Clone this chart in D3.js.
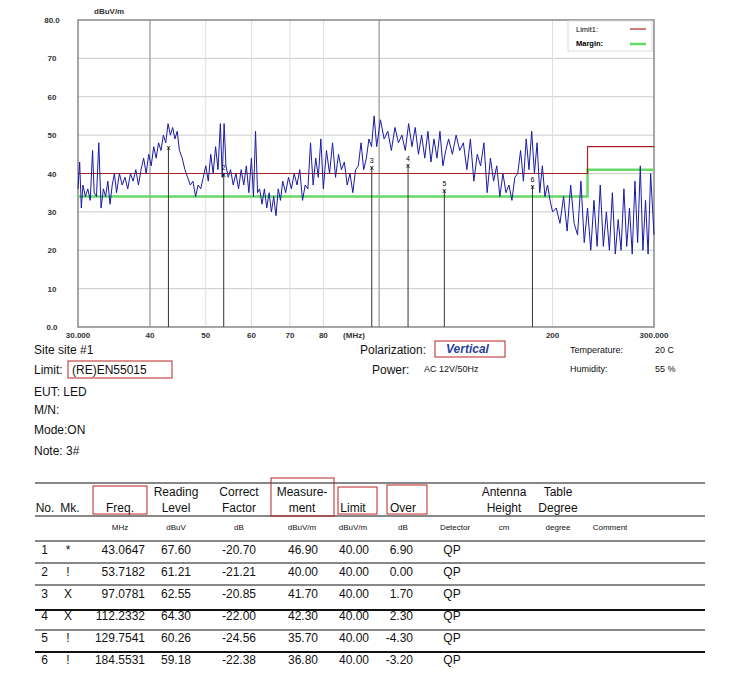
<!DOCTYPE html>
<html>
<head>
<meta charset="UTF-8">
<script src="https://d3js.org/d3.v7.min.js"></script>
<style>
  body { margin: 0; background: #fff; }
  text { font-family: "Liberation Sans", Arial, sans-serif; }
</style>
</head>
<body>
<svg id="chart" width="733" height="675"></svg>
<script>
// trace of the scan, [MHz, dBuV/m]
const trace = [
  [30.0,36],[30.2,43],[30.4,31],[30.6,37],[30.9,34],[31.2,36],[31.5,33],[31.8,46],[32.0,35],[32.3,34],
  [32.6,48],[32.9,31],[33.2,36],[33.5,34],[33.8,38],[34.1,32],[34.4,37],[34.7,40],[35.0,35],[35.4,40],
  [35.8,37],[36.2,39],[36.6,36],[37.0,40],[37.4,38],[37.8,41],[38.2,37],[38.6,41],[39.0,44],[39.4,40],
  [39.8,45],[40.2,42],[40.6,47],[41.0,44],[41.4,48],[41.8,46],[42.2,50],[42.6,48],[43.0,53],[43.4,50],
  [43.8,52],[44.2,49],[44.6,51],[45.0,46],[45.5,44],[46.0,41],[46.5,39],[47.0,37],[47.5,38],[48.0,34],
  [48.5,37],[49.0,36],[49.5,39],[50.0,42],[50.5,38],[51.0,45],[51.5,40],[52.0,47],[52.5,41],[53.0,53],
  [53.4,39],[53.8,53],[54.2,42],[54.7,39],[55.2,41],[55.8,37],[56.4,40],[57.0,36],[57.6,41],[58.2,37],
  [58.8,42],[59.4,35],[60.0,44],[60.5,34],[61.0,51],[61.5,35],[62.0,36],[62.6,32],[63.2,36],[63.8,31],
  [64.4,35],[65.0,30],[65.6,34],[66.2,29],[66.8,36],[67.4,33],[68.0,38],[68.8,35],[69.6,39],[70.4,36],
  [71.2,40],[72.0,37],[72.8,41],[73.6,33],[74.4,37],[75.2,36],[76.0,48],[76.8,37],[77.6,44],[78.4,39],
  [79.2,49],[80.0,36],[81.0,46],[82.0,40],[83.0,48],[84.0,39],[85.0,45],[86.0,41],[87.0,43],[88.0,37],
  [89.0,40],[90.0,35],[91.0,41],[92.0,42],[93.0,48],[94.0,41],[95.0,44],[96.0,49],[97.0,47],[98.0,55],
  [99.0,47],[100.5,54],[102.0,49],[103.5,51],[105.0,46],[106.5,52],[108.0,48],[109.5,50],[111.0,46],[112.5,53],
  [114.0,47],[115.5,52],[117.0,45],[118.5,50],[120.0,44],[121.5,51],[123.0,43],[124.5,49],[126.0,44],[127.5,51],
  [129.0,42],[130.5,46],[132.0,49],[134.0,45],[136.0,50],[138.0,46],[140.0,48],[142.0,41],[144.0,49],[146.0,38],
  [148.0,45],[150.0,42],[152.0,48],[154.0,35],[156.0,44],[158.0,38],[160.0,42],[162.0,34],[164.0,40],[166.0,35],
  [168.0,37],[170.0,33],[172.0,39],[174.0,40],[176.0,46],[178.0,38],[180.0,49],[182.0,41],[184.0,51],[186.0,40],
  [188.0,48],[190.0,35],[192.0,42],[194.0,34],[196.0,37],[198.0,33],[200.0,30],[203.0,31],[206.0,27],[209.0,34],
  [212.0,25],[215.0,37],[218.0,27],[221.0,24],[224.0,38],[227.0,22],[230.0,31],[233.0,20],[236.0,33],[239.0,21],
  [242.0,37],[245.0,21],[248.0,30],[251.0,20],[254.0,35],[257.0,19],[260.0,28],[263.0,20],[266.0,36],[269.0,21],
  [272.0,31],[275.0,19],[278.0,38],[281.0,22],[284.0,42],[287.0,20],[290.0,33],[293.0,19],[296.0,40],[300.0,24]
];

// limit lines
const limitLine = [[30,40],[230,40],[230,47],[300,47]];
const marginLine = [[30,34],[230,34],[230,41],[300,41]];

// marker table
const markNo = [1, 2, 3, 4, 5, 6];
const markMk = ["*", "!", "X", "X", "!", "!"];
const markFreq = [43.0647, 53.7182, 97.0781, 112.2332, 129.7541, 184.5531];
const markReading = [67.60, 61.21, 62.55, 64.30, 60.26, 59.18];
const markFactor = [-20.70, -21.21, -20.85, -22.00, -24.56, -22.38];
const markMeas = [46.90, 40.00, 41.70, 42.30, 35.70, 36.80];
const markLimit = [40.00, 40.00, 40.00, 40.00, 40.00, 40.00];
const markOver = [6.90, 0.00, 1.70, 2.30, -4.30, -3.20];
const markDet = ["QP", "QP", "QP", "QP", "QP", "QP"];

const xTicks = [30, 40, 50, 60, 70, 80, 200, 300];
const xTickLabels = ["30.000", "40", "50", "60", "70", "80", "200", "300.000"];
const yTicks = [0, 10, 20, 30, 40, 50, 60, 70, 80];
const yTickLabels = ["0.0", "10", "20", "30", "40", "50", "60", "70", "80.0"];
const gridX = [40, 50, 60, 70, 80, 100, 200];

const svg = d3.select("#chart");
const pL = 78, pR = 654, pT = 20, pB = 327;

const x = d3.scaleLog().domain([30, 300]).range([pL, pR]);
const y = d3.scaleLinear().domain([0, 80]).range([pB, pT]);

// grid
svg.append("g").selectAll("line").data(yTicks.slice(1, -1)).join("line")
  .attr("x1", pL).attr("x2", pR).attr("y1", d => y(d)).attr("y2", d => y(d))
  .attr("stroke", "#ccc").attr("stroke-width", 1);
svg.append("g").selectAll("line").data(gridX).join("line")
  .attr("x1", d => x(d)).attr("x2", d => x(d)).attr("y1", pT).attr("y2", pB)
  .attr("stroke", d => (d === 40 || d === 100) ? "#aaa" : "#ddd").attr("stroke-width", d => (d === 40 || d === 100) ? 1.5 : 1);

// frame
svg.append("rect").attr("x", pL).attr("y", pT).attr("width", pR - pL).attr("height", pB - pT)
  .attr("fill", "none").attr("stroke", "#888").attr("stroke-width", 1.5);

// axis labels
svg.append("g").selectAll("text").data(yTicks).join("text")
  .attr("x", 52).attr("y", d => y(d) + 3).attr("text-anchor", "middle")
  .attr("font-size", 8).attr("font-weight", "bold").attr("fill", "#333")
  .text((d, i) => yTickLabels[i]);
svg.append("text").attr("x", 94).attr("y", 14).attr("font-size", 8).attr("font-weight", "bold").attr("fill", "#333").text("dBuV/m");
svg.append("g").selectAll("text").data(xTicks).join("text")
  .attr("x", d => x(d)).attr("y", 338).attr("text-anchor", "middle")
  .attr("font-size", 8).attr("font-weight", "bold").attr("fill", "#333")
  .text((d, i) => xTickLabels[i]);
svg.append("text").attr("x", 354).attr("y", 338).attr("text-anchor", "middle")
  .attr("font-size", 8).attr("font-weight", "bold").attr("fill", "#333").text("(MHz)");

const line = d3.line().x(d => x(d[0])).y(d => y(d[1]));

// margin and limit
svg.append("path").datum(marginLine).attr("d", line).attr("fill", "none").attr("stroke", "#66d966").attr("stroke-width", 2.5);
svg.append("path").datum(limitLine).attr("d", line).attr("fill", "none").attr("stroke", "#a22").attr("stroke-width", 1.2);

// trace
svg.append("path").datum(trace).attr("d", line).attr("fill", "none").attr("stroke", "#1a1aa8").attr("stroke-width", 1);

// markers
const mk = svg.append("g").selectAll("g").data(markFreq).join("g");
mk.append("line").attr("x1", d => x(d)).attr("x2", d => x(d))
  .attr("y1", (d, i) => y(markMeas[i])).attr("y2", pB).attr("stroke", "#333").attr("stroke-width", 1);
mk.append("text").attr("x", d => x(d)).attr("y", (d, i) => y(markMeas[i]) + 3)
  .attr("text-anchor", "middle").attr("font-size", 8).text("x");
mk.append("text").attr("x", d => x(d)).attr("y", (d, i) => y(markMeas[i]) - 4)
  .attr("text-anchor", "middle").attr("font-size", 7).text((d, i) => i === 0 ? "" : markNo[i]);

// legend
svg.append("rect").attr("x", 568).attr("y", 21).attr("width", 84).attr("height", 30).attr("fill", "#fff").attr("stroke", "#ddd");
svg.append("text").attr("x", 576).attr("y", 32).attr("font-size", 7.5).text("Limit1:");
svg.append("text").attr("x", 576).attr("y", 46).attr("font-size", 7.5).attr("font-weight", "bold").text("Margin:");
svg.append("line").attr("x1", 630).attr("x2", 646).attr("y1", 29).attr("y2", 29).attr("stroke", "#a22").attr("stroke-width", 1.2);
svg.append("line").attr("x1", 630).attr("x2", 646).attr("y1", 44).attr("y2", 44).attr("stroke", "#66d966").attr("stroke-width", 2.5);

// info block
const info = svg.append("g").attr("font-size", 12).attr("fill", "#111");
info.append("text").attr("x", 34).attr("y", 354).text("Site  site #1");
info.append("text").attr("x", 34).attr("y", 374).text("Limit:");
info.append("rect").attr("x", 68).attr("y", 361).attr("width", 104).attr("height", 17).attr("fill", "none").attr("stroke", "#b22");
info.append("text").attr("x", 72).attr("y", 374).text("(RE)EN55015");
info.append("text").attr("x", 34).attr("y", 396).text("EUT:  LED");
info.append("text").attr("x", 34).attr("y", 414).text("M/N:");
info.append("text").attr("x", 34).attr("y", 434).text("Mode:ON");
info.append("text").attr("x", 34).attr("y", 455).text("Note:  3#");
info.append("text").attr("x", 360).attr("y", 354).text("Polarization:");
info.append("rect").attr("x", 435).attr("y", 341).attr("width", 70).attr("height", 16).attr("fill", "none").attr("stroke", "#b22");
info.append("text").attr("x", 446).attr("y", 353).attr("font-style", "italic").attr("font-weight", "bold").attr("fill", "#2a3f9a").text("Vertical");
info.append("text").attr("x", 372).attr("y", 374).text("Power:");
info.append("text").attr("x", 424).attr("y", 372).attr("font-size", 9).text("AC 12V/50Hz");
info.append("text").attr("x", 570).attr("y", 353).attr("font-size", 9).text("Temperature:");
info.append("text").attr("x", 655).attr("y", 353).attr("font-size", 9).text("20 C");
info.append("text").attr("x", 570).attr("y", 372).attr("font-size", 9).text("Humidity:");
info.append("text").attr("x", 655).attr("y", 372).attr("font-size", 9).text("55 %");

// table
const tbl = svg.append("g").attr("fill", "#111");
const hline = (yy, w) => tbl.append("line").attr("x1", 35).attr("x2", 705).attr("y1", yy).attr("y2", yy).attr("stroke", "#111").attr("stroke-width", w);
hline(483, 1.2); hline(516, 1.2);
[541, 563, 585, 610, 630, 652].forEach((yy, i) => hline(yy, (i === 3 || i === 5) ? 2 : 1));

const headers = [
  [45, ["No."]], [70, ["Mk."]], [120, ["Freq."]], [176, ["Reading", "Level"]], [239, ["Correct", "Factor"]],
  [302, ["Measure-", "ment"]], [353, ["Limit"]], [403, ["Over"]], [504, ["Antenna", "Height"]], [558, ["Table", "Degree"]]
];
headers.forEach(([cx, lines]) => {
  lines.forEach((t, j) => {
    tbl.append("text").attr("x", cx).attr("y", lines.length === 2 ? 496 + j * 16 : 512)
      .attr("text-anchor", "middle").attr("font-size", 12).text(t);
  });
});
// red boxes around headers
[[93, 486, 54, 28], [271, 478, 63, 38], [338, 487, 39, 27], [387, 485, 40, 29]].forEach(b =>
  tbl.append("rect").attr("x", b[0]).attr("y", b[1]).attr("width", b[2]).attr("height", b[3])
    .attr("fill", "none").attr("stroke", "#b22").attr("stroke-width", 1));

const units = [[120, "MHz"], [176, "dBuV"], [239, "dB"], [302, "dBuV/m"], [353, "dBuV/m"], [403, "dB"], [455, "Detector"], [504, "cm"], [558, "degree"], [610, "Comment"]];
units.forEach(([cx, t]) => tbl.append("text").attr("x", cx).attr("y", 530).attr("text-anchor", "middle").attr("font-size", 8).text(t));

const rowY = d3.scaleBand().domain(markNo).range([538, 670]);
const cols = [
  [48, "end", i => markNo[i]], [68, "middle", i => markMk[i]], [145, "end", i => markFreq[i].toFixed(4)],
  [191, "end", i => markReading[i].toFixed(2)], [256, "end", i => markFactor[i].toFixed(2)],
  [318, "end", i => markMeas[i].toFixed(2)], [369, "end", i => markLimit[i].toFixed(2)],
  [413, "end", i => markOver[i].toFixed(2)], [452, "middle", i => markDet[i]]
];
markNo.forEach((n, i) => {
  cols.forEach(([cx, anchor, f]) => {
    tbl.append("text").attr("x", cx).attr("y", rowY(n) + 16).attr("text-anchor", anchor).attr("font-size", 12).text(f(i));
  });
});
</script>
</body>
</html>
